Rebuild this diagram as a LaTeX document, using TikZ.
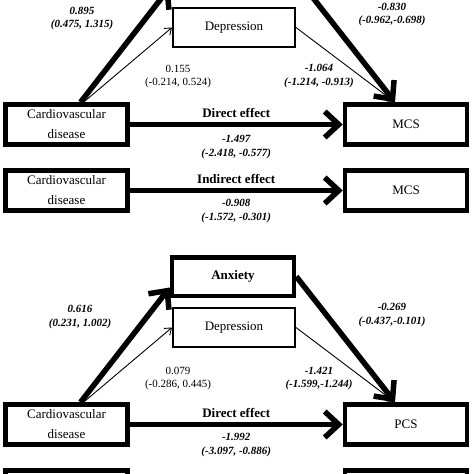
\documentclass[tikz,border=0pt]{standalone}
\usepackage{fontspec}
\setmainfont{Liberation Serif}
\usepackage{tikz}
\usetikzlibrary{arrows.meta, positioning}
\tikzset{%
  thickbox/.style={rectangle, draw, line width=4.5pt, minimum width=122pt, minimum height=40pt, inner sep=2pt, align=center, font=\fontsize{13}{20}\selectfont},
  anxbox/.style={thickbox, minimum height=38.5pt, font=\fontsize{13}{20}\selectfont\bfseries},
  thinbox/.style={rectangle, draw, line width=1.6pt, minimum width=122.4pt, minimum height=39.4pt, align=center, font=\fontsize{13}{20}\selectfont},
  bigline/.style={draw, line width=5.5pt, -{Straight Barb[length=14pt, width=26pt]}},
  smallline/.style={draw, line width=0.9pt, -{Straight Barb[length=6pt, width=9pt]}},
  coef/.style={align=center, inner sep=1pt, font=\fontsize{11}{13.5}\selectfont\bfseries\itshape},
  plaincoef/.style={align=center, inner sep=1pt, font=\fontsize{11}{13.5}\selectfont},
  effect/.style={inner sep=1pt, font=\fontsize{13}{15}\selectfont\bfseries}}

\begin{document}
\begin{tikzpicture}[x=1pt, y=-1pt]
    \useasboundingbox (0, 0) rectangle (474, 474);
    \clip (0, 0) rectangle (474, 474);

    % mental component
    \node [anxbox] (anx1) at (233, -23.5) {};
    \node [thinbox] (dep1) at (234, 27.5) {Depression};
    \node [thickbox] (cvd1) at (66.5, 124.5) {Cardiovascular\\disease};
    \node [thickbox] (mcs1) at (406, 124.5) {MCS};

    \path [bigline] ([xshift=14pt]cvd1.north) -- ([yshift=-11pt]anx1.west);
    \path [smallline] ([xshift=17pt]cvd1.north) -- (dep1.west);
    \path [bigline] (anx1.east) -- ([xshift=-11pt]mcs1.north);
    \path [smallline] (dep1.east) -- ([xshift=-11pt]mcs1.north);

    \node [coef] (a1) at (82, 18.5) {0.895\\(0.475, 1.315)};
    \node [plaincoef] (c1) at (178, 76.5) {0.155\\(-0.214, 0.524)};
    \node [coef] (b1) at (392, 14.5) {-0.830\\(-0.962,-0.698)};
    \node [coef] (d1) at (319, 76) {-1.064\\(-1.214, -0.913)};

    \path [bigline] (cvd1) -- node [effect, above=3pt] (direct1) {Direct effect}
      node [coef, below=7pt] (e1) {-1.497\\(-2.418, -0.577)} (mcs1);

    \node [thickbox] (cvd2) at (66.5, 190.5) {Cardiovascular\\disease};
    \node [thickbox] (mcs2) at (406, 190.5) {MCS};
    \path [bigline] (cvd2) -- node [effect, above=3pt] (indirect1) {Indirect effect}
      node [coef, below=5pt] (f1) {-0.908\\(-1.572, -0.301)} (mcs2);

    % physical component
    \node [anxbox] (anx2) at (233, 276.5) {Anxiety};
    \node [thinbox] (dep2) at (234, 327.5) {Depression};
    \node [thickbox] (cvd3) at (66.5, 424.5) {Cardiovascular\\disease};
    \node [thickbox] (pcs1) at (406, 424.5) {PCS};

    \path [bigline] ([xshift=14pt]cvd3.north) -- ([yshift=-11pt]anx2.west);
    \path [smallline] ([xshift=17pt]cvd3.north) -- (dep2.west);
    \path [bigline] (anx2.east) -- ([xshift=-11pt]pcs1.north);
    \path [smallline] (dep2.east) -- ([xshift=-11pt]pcs1.north);

    \node [coef] (a2) at (80, 317) {0.616\\(0.231, 1.002)};
    \node [plaincoef] (c2) at (178, 378.5) {0.079\\(-0.286, 0.445)};
    \node [coef] (b2) at (392, 315) {-0.269\\(-0.437,-0.101)};
    \node [coef] (d2) at (319, 378.5) {-1.421\\(-1.599,-1.244)};

    \path [bigline] (cvd3) -- node [effect, above=3pt] (direct2) {Direct effect}
      node [coef, below=5pt] (e2) {-1.992\\(-3.097, -0.886)} (pcs1);

    \node [thickbox] (cvd4) at (66.5, 490.5) {};
    \node [thickbox] (pcs2) at (406, 490.5) {};
\end{tikzpicture}
\end{document}
